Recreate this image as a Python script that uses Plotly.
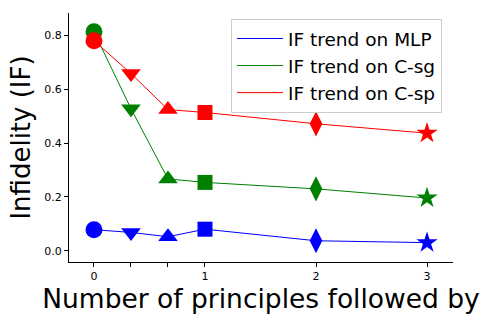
import plotly.graph_objects as go

x_vals = [0, 1/3, 2/3, 1, 2, 3]
symbols = ["circle", "triangle-down", "triangle-up", "square", "diamond-tall", "star"]
sizes = [17, 17, 17, 15, 18, 16]
mlp = [0.078, 0.068, 0.052, 0.080, 0.037, 0.030]
csg = [0.814, 0.528, 0.267, 0.254, 0.230, 0.196]
csp = [0.781, 0.659, 0.525, 0.514, 0.472, 0.437]
names = ["IF trend on MLP", "IF trend on C-sg", "IF trend on C-sp"]
colors = ["blue", "green", "red"]
series = [mlp, csg, csp]
xtick_vals = [0, 1/3, 2/3, 1, 2, 3]
xtick_text = ["0", "", "", "1", "2", "3"]
ytick_vals = [0.0, 0.2, 0.4, 0.6, 0.8]
ytick_text = ["0.0", "0.2", "0.4", "0.6", "0.8"]

fig = go.Figure()
for i, (ys, name, c) in enumerate(zip(series, names, colors)):
    fig.add_trace(go.Scatter(x=x_vals, y=ys, mode="lines", name=name,
                             line=dict(color=c, width=1), legendgroup=str(i)))
for ys, c in zip(series, colors):
    fig.add_trace(go.Scatter(x=x_vals, y=ys, mode="markers", showlegend=False,
                             marker=dict(color=c, symbol=symbols, size=sizes,
                                         opacity=1, line=dict(width=0))))

fig.update_layout(
    width=488, height=325,
    margin=dict(l=69, r=35, t=13, b=63),
    plot_bgcolor="white", paper_bgcolor="white",
    font=dict(family="DejaVu Sans", color="black"),
    showlegend=True,
    legend=dict(x=0.422, y=0.976, xanchor="left", yanchor="top",
                bgcolor="white", bordercolor="#cccccc", borderwidth=1,
                font=dict(size=18.5), traceorder="grouped", tracegroupgap=0,
                itemwidth=46),
    xaxis=dict(range=[-0.225, 3.234], tickvals=xtick_vals, ticktext=xtick_text,
               ticks="outside", ticklen=4, tickcolor="black", tickwidth=1,
               showline=True, linecolor="black", linewidth=1, showgrid=False,
               zeroline=False, tickfont=dict(size=11),
               title=dict(text="Number of principles followed by",
                          font=dict(size=26.5), standoff=6)),
    yaxis=dict(range=[-0.042, 0.884], tickvals=ytick_vals, ticktext=ytick_text,
               ticks="outside", ticklen=4, tickcolor="black", tickwidth=1,
               showline=True, linecolor="black", linewidth=1, showgrid=False,
               zeroline=False, tickfont=dict(size=11),
               title=dict(text="Infidelity (IF)", font=dict(size=26), standoff=6)),
)
fig.write_html("out.html")
